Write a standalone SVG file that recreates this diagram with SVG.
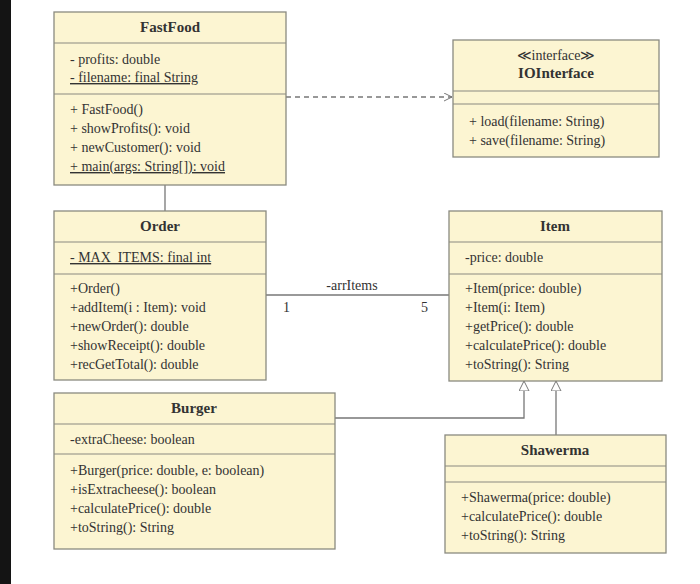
<svg xmlns="http://www.w3.org/2000/svg" width="700" height="584" viewBox="0 0 700 584">
<style>
.box{fill:#fcf5d2;stroke:#8a8a80;stroke-width:1.3}
.sep{stroke:#8a8a80;stroke-width:1.2}
text{font-family:"Liberation Serif","DejaVu Serif",serif;font-size:14px;fill:#333}
.t{font-weight:bold;text-anchor:middle;font-size:15px}
.c{stroke:#777;stroke-width:1.3;fill:none}
</style>
<defs>
<marker id="tri" markerWidth="12" markerHeight="12" refX="10" refY="5" orient="auto" markerUnits="userSpaceOnUse"><path d="M0,0 L10,5 L0,10 Z" fill="#fff" stroke="#777"/></marker>
<marker id="open" markerWidth="10" markerHeight="10" refX="8" refY="4" orient="auto" markerUnits="userSpaceOnUse"><path d="M0,0 L8,4 L0,8" fill="none" stroke="#777"/></marker>
<marker id="dia" markerWidth="14" markerHeight="10" refX="0" refY="4" orient="auto" markerUnits="userSpaceOnUse"><path d="M0,4 L6,0 L12,4 L6,8 Z" fill="#111"/></marker>
</defs>
<rect width="700" height="584" fill="#fff"/>
<rect width="11" height="584" fill="#141414"/>
<g id="connectors">
<line class="c" x1="165" y1="185" x2="165" y2="211"/>
<line class="c" x1="286" y1="97" x2="452" y2="97" stroke-dasharray="5,4" marker-end="url(#open)"/>
<line class="c" x1="449" y1="295" x2="266" y2="295" marker-end="url(#dia)"/>
<text x="352" y="290" text-anchor="middle" font-size="13">-arrItems</text>
<text x="283" y="312" font-size="13">1</text>
<text x="421" y="312" font-size="13">5</text>
<polyline class="c" points="335,418 524,418 524,381" marker-end="url(#tri)"/>
<line class="c" x1="556" y1="435" x2="556" y2="381" marker-end="url(#tri)"/>
</g>
<g id="FastFood">
<rect class="box" x="54" y="12" width="232" height="173"/>
<line class="sep" x1="54" y1="43" x2="286" y2="43"/><line class="sep" x1="54" y1="94" x2="286" y2="94"/>
<text class="t" x="170" y="32">FastFood</text>
<text x="70" y="64">- profits: double</text>
<text x="70" y="82" text-decoration="underline">- filename: final String</text>
<text x="70" y="114">+ FastFood()</text>
<text x="70" y="133">+ showProfits(): void</text>
<text x="70" y="152">+ newCustomer(): void</text>
<text x="70" y="171" text-decoration="underline">+ main(args: String[]): void</text>
</g>
<g id="IOInterface">
<rect class="box" x="453" y="40" width="206" height="117"/>
<line class="sep" x1="453" y1="91" x2="659" y2="91"/><line class="sep" x1="453" y1="104" x2="659" y2="104"/>
<text x="556" y="60" text-anchor="middle" font-size="13">≪interface≫</text>
<text class="t" x="556" y="78">IOInterface</text>
<text x="469" y="126">+ load(filename: String)</text>
<text x="469" y="145">+ save(filename: String)</text>
</g>
<g id="Order">
<rect class="box" x="54" y="211" width="212" height="169"/>
<line class="sep" x1="54" y1="242" x2="266" y2="242"/><line class="sep" x1="54" y1="274" x2="266" y2="274"/>
<text class="t" x="160" y="231">Order</text>
<text x="70" y="262" text-decoration="underline">- MAX_ITEMS: final int</text>
<text x="70" y="293">+Order()</text>
<text x="70" y="312">+addItem(i : Item): void</text>
<text x="70" y="331">+newOrder(): double</text>
<text x="70" y="350">+showReceipt(): double</text>
<text x="70" y="369">+recGetTotal(): double</text>
</g>
<g id="Item">
<rect class="box" x="449" y="211" width="213" height="170"/>
<line class="sep" x1="449" y1="242" x2="662" y2="242"/><line class="sep" x1="449" y1="274" x2="662" y2="274"/>
<text class="t" x="555" y="231">Item</text>
<text x="465" y="262">-price: double</text>
<text x="465" y="293">+Item(price: double)</text>
<text x="465" y="312">+Item(i: Item)</text>
<text x="465" y="331">+getPrice(): double</text>
<text x="465" y="350">+calculatePrice(): double</text>
<text x="465" y="369">+toString(): String</text>
</g>
<g id="Burger">
<rect class="box" x="54" y="393" width="281" height="156"/>
<line class="sep" x1="54" y1="424" x2="335" y2="424"/><line class="sep" x1="54" y1="454" x2="335" y2="454"/>
<text class="t" x="194" y="413">Burger</text>
<text x="70" y="444">-extraCheese: boolean</text>
<text x="70" y="475">+Burger(price: double, e: boolean)</text>
<text x="70" y="494">+isExtracheese(): boolean</text>
<text x="70" y="513">+calculatePrice(): double</text>
<text x="70" y="532">+toString(): String</text>
</g>
<g id="Shawerma">
<rect class="box" x="445" y="435" width="221" height="118"/>
<line class="sep" x1="445" y1="466" x2="666" y2="466"/><line class="sep" x1="445" y1="482" x2="666" y2="482"/>
<text class="t" x="555" y="455">Shawerma</text>
<text x="461" y="502">+Shawerma(price: double)</text>
<text x="461" y="521">+calculatePrice(): double</text>
<text x="461" y="540">+toString(): String</text>
</g>
</svg>
